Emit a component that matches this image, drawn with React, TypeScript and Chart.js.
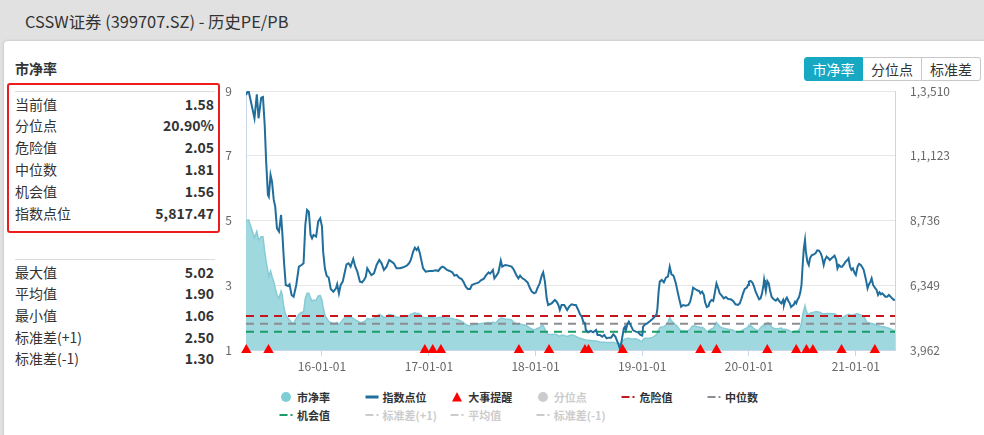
import React, { useEffect, useRef } from 'react';
import { Chart, registerables } from 'chart.js';

Chart.register(...registerables);

const FONT = '"Microsoft YaHei", "Noto Sans CJK SC", "Noto Sans", sans-serif';

// ---------- data ----------
const dates: string[] = [
  '2015-04-16','2015-04-20','2015-04-25','2015-05-15','2015-05-23','2015-05-29','2015-06-07','2015-06-13','2015-06-19','2015-06-24','2015-06-30','2015-07-03','2015-07-09','2015-07-14','2015-07-20','2015-07-25','2015-07-31','2015-08-07','2015-08-14','2015-08-18','2015-08-24','2015-08-30','2015-09-07','2015-09-12','2015-09-19','2015-09-26','2015-10-05','2015-10-14','2015-10-23','2015-10-30','2015-11-05','2015-11-11','2015-11-17','2015-11-23','2015-11-28','2015-12-03','2015-12-12','2015-12-19','2015-12-26',
  '2016-01-01','2016-01-05','2016-01-11','2016-01-17','2016-01-24','2016-01-31','2016-02-09','2016-02-18','2016-02-22','2016-02-28','2016-03-05','2016-03-12','2016-03-17','2016-03-25','2016-04-01','2016-04-08','2016-04-17','2016-04-24','2016-05-01','2016-05-10','2016-05-17','2016-05-24','2016-05-30','2016-06-04','2016-06-11','2016-06-18','2016-06-27','2016-07-06','2016-07-15','2016-07-23','2016-07-31','2016-08-09','2016-08-18','2016-08-26','2016-09-03','2016-09-12','2016-09-24','2016-10-05','2016-10-17','2016-10-25','2016-10-31','2016-11-08','2016-11-14','2016-11-20','2016-11-25','2016-12-01','2016-12-07','2016-12-12','2016-12-21',
  '2017-01-02','2017-01-13','2017-01-25','2017-02-02','2017-02-09','2017-02-16','2017-02-23','2017-03-04','2017-03-13','2017-03-22','2017-03-29','2017-04-06','2017-04-14','2017-04-23','2017-04-30','2017-05-07','2017-05-14','2017-05-22','2017-05-28','2017-06-08','2017-06-19','2017-06-29','2017-07-08','2017-07-16','2017-07-24','2017-07-29','2017-08-04','2017-08-08','2017-08-13','2017-08-20','2017-08-27','2017-09-04','2017-09-09','2017-09-19','2017-09-30','2017-10-11','2017-10-19','2017-10-27','2017-11-03','2017-11-09','2017-11-17','2017-11-26','2017-12-05','2017-12-13','2017-12-19','2017-12-27',
  '2018-01-02','2018-01-08','2018-01-15','2018-01-22','2018-01-27','2018-02-02','2018-02-08','2018-02-13','2018-02-25','2018-03-08','2018-03-14','2018-03-20','2018-03-25','2018-03-31','2018-04-09','2018-04-19','2018-04-26','2018-05-04','2018-05-13','2018-05-19','2018-05-27','2018-06-02','2018-06-08','2018-06-13','2018-06-19','2018-06-22','2018-06-30','2018-07-09','2018-07-17','2018-07-27','2018-08-01','2018-08-09','2018-08-17','2018-08-24','2018-09-01','2018-09-09','2018-09-16','2018-09-24','2018-10-01','2018-10-07','2018-10-12','2018-10-17','2018-10-20','2018-10-25','2018-10-30','2018-11-03','2018-11-06','2018-11-11','2018-11-16','2018-11-23','2018-12-01','2018-12-10','2018-12-18','2018-12-26',
  '2019-01-01','2019-01-04','2019-01-11','2019-01-18','2019-01-27','2019-02-05','2019-02-13','2019-02-19','2019-02-22','2019-02-26','2019-03-02','2019-03-09','2019-03-16','2019-03-23','2019-03-30','2019-04-05','2019-04-11','2019-04-18','2019-04-26','2019-05-02','2019-05-07','2019-05-14','2019-05-21','2019-05-30','2019-06-08','2019-06-14','2019-06-20','2019-06-24','2019-07-01','2019-07-08','2019-07-15','2019-07-19','2019-07-25','2019-07-31','2019-08-04','2019-08-10','2019-08-16','2019-08-20','2019-08-26','2019-09-01','2019-09-06','2019-09-12','2019-09-18','2019-09-23','2019-09-30','2019-10-07','2019-10-14','2019-10-22','2019-10-31','2019-11-08','2019-11-16','2019-11-25','2019-12-01','2019-12-07','2019-12-12','2019-12-18','2019-12-25','2019-12-29',
  '2020-01-01','2020-01-07','2020-01-13','2020-01-18','2020-01-24','2020-01-30','2020-02-05','2020-02-10','2020-02-15','2020-02-20','2020-02-22','2020-02-25','2020-02-28','2020-03-04','2020-03-09','2020-03-13','2020-03-19','2020-03-26','2020-04-02','2020-04-08','2020-04-15','2020-04-21','2020-04-27','2020-04-30','2020-05-05','2020-05-10','2020-05-15','2020-05-20','2020-05-24','2020-05-29','2020-06-02','2020-06-07','2020-06-11','2020-06-16','2020-06-20','2020-06-25','2020-06-29','2020-07-03','2020-07-07','2020-07-11','2020-07-14','2020-07-19','2020-07-24','2020-07-28','2020-08-03','2020-08-10','2020-08-16','2020-08-22','2020-08-28','2020-09-03','2020-09-07','2020-09-13','2020-09-17','2020-09-23','2020-09-29','2020-10-04','2020-10-10','2020-10-16','2020-10-20','2020-10-26','2020-10-30','2020-11-04','2020-11-10','2020-11-15','2020-11-21','2020-11-27','2020-12-03','2020-12-07','2020-12-12','2020-12-17','2020-12-22','2020-12-28',
  '2021-01-01','2021-01-07','2021-01-12','2021-01-18','2021-01-24','2021-01-28','2021-02-01','2021-02-06','2021-02-10','2021-02-14','2021-02-20','2021-02-24','2021-03-01','2021-03-07','2021-03-13','2021-03-18','2021-03-23','2021-03-28','2021-04-01','2021-04-07','2021-04-12','2021-04-18','2021-04-24','2021-04-30','2021-05-05','2021-05-11','2021-05-15',
];

// 市净率 (left axis)
const pbValues: number[] = [
  5.00,5.01,5.02,4.47,4.66,4.40,4.50,4.50,4.04,3.73,3.42,3.27,3.44,3.27,3.11,2.91,2.70,2.60,2.82,2.70,2.29,2.08,1.98,1.93,1.85,1.82,1.98,2.10,2.16,2.18,2.60,2.75,2.75,2.60,2.51,2.54,2.54,2.67,2.68,
  2.54,2.31,2.08,1.98,1.88,1.85,1.82,1.84,1.85,1.79,1.85,1.93,1.98,2.03,2.00,2.02,1.98,1.93,1.90,1.85,1.85,1.88,1.91,1.98,1.96,1.95,1.98,2.03,2.10,2.06,2.00,2.03,2.10,2.08,2.06,2.01,2.01,2.02,2.04,2.06,2.10,2.13,2.15,2.12,2.13,2.10,2.03,2.01,2.00,
  2.00,2.00,1.98,2.00,2.01,2.01,2.00,1.99,1.98,1.97,1.95,1.94,1.92,1.88,1.84,1.79,1.76,1.75,1.77,1.79,1.80,1.82,1.83,1.84,1.85,1.84,1.85,1.86,1.83,1.86,1.93,1.99,1.98,1.96,1.95,1.93,1.85,1.82,1.81,1.80,1.78,1.77,1.73,1.67,1.65,1.62,
  1.64,1.67,1.69,1.77,1.75,1.65,1.51,1.48,1.48,1.49,1.48,1.44,1.42,1.46,1.45,1.42,1.44,1.46,1.45,1.42,1.38,1.36,1.35,1.33,1.32,1.31,1.30,1.29,1.28,1.28,1.27,1.25,1.24,1.24,1.23,1.23,1.23,1.24,1.22,1.21,1.20,1.18,1.20,1.28,1.31,1.34,1.34,1.36,1.36,1.34,1.34,1.35,1.32,1.28,
  1.26,1.33,1.36,1.36,1.37,1.39,1.44,1.48,1.55,1.62,1.69,1.71,1.72,1.77,1.85,2.00,1.90,1.84,1.77,1.71,1.65,1.59,1.60,1.59,1.60,1.64,1.72,1.75,1.74,1.72,1.71,1.69,1.70,1.67,1.62,1.57,1.59,1.62,1.65,1.67,1.75,1.85,1.79,1.73,1.69,1.67,1.66,1.64,1.63,1.61,1.57,1.56,1.57,1.59,1.62,1.65,1.68,1.72,
  1.77,1.75,1.71,1.66,1.63,1.60,1.62,1.69,1.72,1.77,1.79,1.75,1.77,1.85,1.84,1.79,1.71,1.67,1.65,1.66,1.67,1.68,1.63,1.63,1.64,1.63,1.61,1.59,1.57,1.56,1.55,1.59,1.57,1.59,1.62,1.69,1.85,2.08,2.24,2.37,2.24,2.13,2.10,2.13,2.16,2.17,2.18,2.18,2.17,2.15,2.13,2.12,2.12,2.13,2.13,2.13,2.12,2.12,2.12,2.08,2.03,1.98,1.98,1.99,2.02,2.06,2.08,2.10,2.09,2.06,2.08,2.10,
  2.11,2.12,2.10,2.08,2.05,2.02,1.98,1.88,1.85,1.84,1.82,1.82,1.81,1.79,1.77,1.75,1.74,1.73,1.72,1.72,1.70,1.69,1.67,1.65,1.63,1.61,1.58,
];

// 指数点位 (right axis)
const indexValues: number[] = [
  13360,13462,13510,12504,13388,12504,13265,13290,12258,10906,9677,9615,10414,10168,9493,9247,8448,8325,8940,8325,7219,6359,6322,6383,5990,5928,6359,7034,7096,7157,8571,9124,9062,8202,8079,8202,8141,8694,8817,
  8509,7588,6973,6703,6629,6211,6113,6236,6383,6051,6359,6482,6727,7120,7157,7034,7317,7034,6850,6482,6457,6543,6666,6973,6850,6727,6789,7096,7280,7157,6912,7034,7280,7219,7157,6973,6973,7010,7072,7157,7280,7588,7735,7649,7735,7526,7219,6973,6850,
  6875,6875,6900,6875,6973,7034,6998,6912,6875,6826,6703,6727,6629,6580,6457,6297,6211,6211,6359,6408,6445,6543,6592,6727,6826,6777,6850,6912,6604,6703,6826,7256,7034,7096,7072,7034,6912,6727,6604,6703,6604,6543,6445,6236,6113,6051,
  6088,6260,6420,6703,6826,6482,5867,5621,5683,5806,5744,5621,5437,5621,5621,5437,5560,5646,5621,5621,5437,5277,5191,5007,4945,4699,4613,4663,4613,4699,4515,4515,4454,4515,4392,4417,4417,4540,4454,4294,4171,3999,4146,4454,4761,4822,4699,4908,5007,4859,4687,4638,4613,4515,
  4490,4822,4908,4945,5019,5105,5191,5277,5498,6113,6482,6543,6457,6629,6666,7034,6752,6703,6420,6113,5867,5560,5621,5597,5621,5744,6015,6260,6211,6162,6137,6051,6113,5990,5720,5548,5585,5720,5806,5769,6051,6420,6236,6051,5965,5867,5916,5842,5830,5769,5646,5621,5683,5867,6051,6211,6260,6359,
  6482,6506,6445,6322,6113,5965,5830,5867,6051,6359,6543,6334,6137,6506,6420,6174,5916,5830,5781,5855,5744,5683,5806,5621,5806,5891,5769,5683,5548,5597,5621,5744,5683,5830,5891,6088,6359,7096,7711,8018,7588,7219,7096,7342,7452,7489,7526,7637,7625,7526,7403,7096,7280,7403,7342,7280,7342,7403,7440,7280,6973,7096,7034,7034,7120,7219,7280,7342,7034,6912,6973,6789,
  6727,7034,7133,7096,6998,6912,6727,6482,6236,6359,6482,6604,6359,6260,6174,5990,6088,6015,6051,5990,5928,5928,5990,5928,5867,5806,5817,
];

// 大事提醒
const eventDates: string[] = [
  '2015-04-17','2015-07-02','2016-12-18','2017-01-14','2017-02-11','2017-11-05','2018-02-16','2018-06-19','2018-07-01',
  '2018-10-26','2019-07-19','2019-09-12','2020-03-04','2020-06-11','2020-07-16','2020-08-07','2020-11-13','2021-03-07',
];

const startDate = '2015-04-16';
const endDate = '2021-05-15';

const dangerValue = 2.05;
const medianValue = 1.81;
const chanceValue = 1.56;
const stdPlusValue = 2.5;
const meanValue = 1.9;
const stdMinusValue = 1.3;

const leftTickValues = [1, 3, 5, 7, 9];
const rightTickValues = [3962, 6349, 8736, 11123, 13510];
const rightTickLabels = ['3,962', '6,349', '8,736', '1,1,123', '1,3,510'];
const xTickDates = ['2016-01-01', '2017-01-01', '2018-01-01', '2019-01-01', '2020-01-01', '2021-01-01'];
const xTickLabels = ['16-01-01', '17-01-01', '18-01-01', '19-01-01', '20-01-01', '21-01-01'];

const statLabelsTop = ['当前值', '分位点', '危险值', '中位数', '机会值', '指数点位'];
const statValuesTop = ['1.58', '20.90%', '2.05', '1.81', '1.56', '5,817.47'];
const statLabelsBottom = ['最大值', '平均值', '最小值', '标准差(+1)', '标准差(-1)'];
const statValuesBottom = ['5.02', '1.90', '1.06', '2.50', '1.30'];

const tabLabels = ['市净率', '分位点', '标准差'];

// ---------- styles ----------
const C_PB_FILL = '#a0d8df';
const C_PB_LINE = '#86ccd6';
const C_PB_LEGEND = '#7fcdd7';
const C_INDEX = '#1f6e9c';
const C_EVENT = '#ff0000';
const C_DANGER = '#c4161c';
const C_MEDIAN = '#8b8d93';
const C_CHANCE = '#189c68';
const C_HIDDEN = '#cccccc';

const legendItems = [
  { label: '市净率', icon: 'circle', color: C_PB_LEGEND, hidden: false },
  { label: '指数点位', icon: 'line', color: C_INDEX, hidden: false },
  { label: '大事提醒', icon: 'triangle', color: C_EVENT, hidden: false },
  { label: '分位点', icon: 'circle', color: C_HIDDEN, hidden: true },
  { label: '危险值', icon: 'dash', color: C_DANGER, hidden: false },
  { label: '中位数', icon: 'dash', color: C_MEDIAN, hidden: false },
  { label: '机会值', icon: 'dash', color: C_CHANCE, hidden: false },
  { label: '标准差(+1)', icon: 'dash', color: C_HIDDEN, hidden: true },
  { label: '平均值', icon: 'dash', color: C_HIDDEN, hidden: true },
  { label: '标准差(-1)', icon: 'dash', color: C_HIDDEN, hidden: true },
];

const toMs = (s: string) => {
  const [y, m, d] = s.split('-').map(Number);
  return Date.UTC(y, m - 1, d);
};

function LegendIcon({ icon, color }: { icon: string; color: string }) {
  if (icon === 'circle') return <svg width={16} height={12}><circle cx={7} cy={6} r={5} fill={color} /></svg>;
  if (icon === 'line') return <svg width={16} height={12}><rect x={0.5} y={4.5} width={13} height={3} fill={color} /></svg>;
  if (icon === 'triangle') return <svg width={16} height={12}><polygon points="7,1 12,10.5 2,10.5" fill={color} /></svg>;
  return (
    <svg width={16} height={12}>
      <rect x={0.5} y={5} width={8} height={2} fill={color} />
      <rect x={11.5} y={5} width={2} height={2} fill={color} />
    </svg>
  );
}

export default function App() {
  const canvasRef = useRef<HTMLCanvasElement | null>(null);

  useEffect(() => {
    if (!canvasRef.current) return;
    const xMin = toMs(startDate);
    const xMax = toMs(endDate);
    const flat = (v: number) => [{ x: xMin, y: v }, { x: xMax, y: v }];
    const refLine = (label: string, v: number, color: string, order: number, hidden = false) => ({
      label,
      type: 'line' as const,
      data: flat(v),
      yAxisID: 'y',
      borderColor: color,
      backgroundColor: color,
      borderWidth: 2,
      borderDash: [8, 6],
      pointRadius: 0,
      fill: false,
      hidden,
      order,
    });
    const tickFont = { family: FONT, size: 12 };

    const chart = new Chart(canvasRef.current, {
      type: 'line',
      data: {
        datasets: [
          {
            label: '大事提醒',
            type: 'scatter',
            data: eventDates.map((d) => ({ x: toMs(d), y: 1 })),
            yAxisID: 'y',
            pointStyle: 'triangle',
            pointRadius: 6,
            pointHoverRadius: 6,
            backgroundColor: C_EVENT,
            borderColor: C_EVENT,
            borderWidth: 0,
            clip: false,
            order: 0,
          } as any,
          {
            label: '指数点位',
            type: 'line',
            data: dates.map((d, i) => ({ x: toMs(d), y: indexValues[i] })),
            yAxisID: 'y1',
            borderColor: C_INDEX,
            backgroundColor: C_INDEX,
            borderWidth: 2,
            pointRadius: 0,
            fill: false,
            order: 1,
          },
          refLine('危险值', dangerValue, C_DANGER, 2),
          refLine('中位数', medianValue, C_MEDIAN, 3),
          refLine('机会值', chanceValue, C_CHANCE, 4),
          refLine('标准差(+1)', stdPlusValue, C_HIDDEN, 5, true),
          refLine('平均值', meanValue, C_HIDDEN, 6, true),
          refLine('标准差(-1)', stdMinusValue, C_HIDDEN, 7, true),
          {
            label: '分位点',
            type: 'line',
            data: [],
            yAxisID: 'y',
            hidden: true,
            order: 8,
          },
          {
            label: '市净率',
            type: 'line',
            data: dates.map((d, i) => ({ x: toMs(d), y: pbValues[i] })),
            yAxisID: 'y',
            borderColor: C_PB_LINE,
            backgroundColor: C_PB_FILL,
            borderWidth: 1.5,
            pointRadius: 0,
            fill: 'start',
            order: 9,
          },
        ],
      },
      options: {
        animation: false,
        responsive: false,
        devicePixelRatio: 1,
        events: [],
        layout: { autoPadding: false, padding: { top: 11, left: 0, right: 0, bottom: 0 } },
        plugins: {
          legend: { display: false },
          tooltip: { enabled: false },
        },
        scales: {
          x: {
            type: 'linear',
            min: xMin,
            max: xMax,
            afterBuildTicks: (s: any) => {
              s.ticks = xTickDates.map((d) => ({ value: toMs(d) }));
            },
            afterFit: (s: any) => {
              s.height = 30;
              s.paddingLeft = 0;
              s.paddingRight = 0;
            },
            ticks: {
              autoSkip: false,
              maxRotation: 0,
              padding: 3,
              color: '#666',
              font: tickFont,
              callback: (_v: any, i: number) => xTickLabels[i],
            },
            grid: { drawOnChartArea: false, drawTicks: true, tickLength: 6, color: '#ccd6eb' },
            border: { display: true, color: '#ccd6eb' },
          },
          y: {
            position: 'left',
            min: leftTickValues[0],
            max: leftTickValues[leftTickValues.length - 1],
            afterBuildTicks: (s: any) => {
              s.ticks = leftTickValues.map((v) => ({ value: v }));
            },
            afterFit: (s: any) => {
              s.width = 46;
              s.paddingTop = 0;
              s.paddingBottom = 0;
            },
            ticks: { padding: 14, color: '#666', font: tickFont, callback: (v: any) => String(v) },
            grid: { color: '#e6e6e6', drawTicks: false },
            border: { display: true, color: '#ccd6eb' },
          },
          y1: {
            position: 'right',
            min: rightTickValues[0],
            max: rightTickValues[rightTickValues.length - 1],
            afterBuildTicks: (s: any) => {
              s.ticks = rightTickValues.map((v) => ({ value: v }));
            },
            afterFit: (s: any) => {
              s.width = 89;
              s.paddingTop = 0;
              s.paddingBottom = 0;
            },
            ticks: { padding: 15, color: '#666', font: tickFont, callback: (_v: any, i: number) => rightTickLabels[i] },
            grid: { drawOnChartArea: false, drawTicks: false },
            border: { display: true, color: '#ccd6eb' },
          },
        },
      } as any,
    });
    return () => chart.destroy();
  }, []);

  const rowTop = (center: number) => center - 11;

  return (
    <div style={{ position: 'fixed', left: 0, top: 0, width: 984, height: 435, background: '#e1e1e1', overflow: 'hidden', fontFamily: FONT, color: '#333' }}>
      <div style={{ position: 'absolute', left: 25, top: 9, fontSize: 16.4, lineHeight: '24px', color: '#333', whiteSpace: 'nowrap' }}>
        CSSW证券 (399707.SZ) - 历史PE/PB
      </div>
      <div style={{ position: 'absolute', left: 4, top: 41, width: 1000, height: 420, background: '#fff', borderRadius: 4, boxShadow: '0 0 3px rgba(0,0,0,0.18)' }} />

      <div style={{ position: 'absolute', left: 15, top: 58, fontSize: 14, lineHeight: '20px', fontWeight: 'bold', whiteSpace: 'nowrap' }}>市净率</div>

      <div style={{ position: 'absolute', left: 7, top: 83, width: 213, height: 150, boxSizing: 'border-box', border: '2px solid #ee1c1c', borderRadius: 3 }} />
      <div style={{ position: 'absolute', left: 15, top: 91, width: 200, height: 1, background: '#dcdcdc' }} />
      {statLabelsTop.map((l, i) => (
        <React.Fragment key={'t' + i}>
          <div style={{ position: 'absolute', left: 15, top: rowTop(103.5 + 21.9 * i), fontSize: 14, lineHeight: '22px', whiteSpace: 'nowrap' }}>{l}</div>
          <div style={{ position: 'absolute', right: 984 - 214, top: rowTop(103.5 + 21.9 * i), fontSize: 14, lineHeight: '22px', fontWeight: 'bold', whiteSpace: 'nowrap' }}>{statValuesTop[i]}</div>
        </React.Fragment>
      ))}
      <div style={{ position: 'absolute', left: 15, top: 259, width: 200, height: 1, background: '#dcdcdc' }} />
      {statLabelsBottom.map((l, i) => (
        <React.Fragment key={'b' + i}>
          <div style={{ position: 'absolute', left: 15, top: rowTop(271.7 + 21.65 * i), fontSize: 14, lineHeight: '22px', whiteSpace: 'nowrap' }}>{l}</div>
          <div style={{ position: 'absolute', right: 984 - 214, top: rowTop(271.7 + 21.65 * i), fontSize: 14, lineHeight: '22px', fontWeight: 'bold', whiteSpace: 'nowrap' }}>{statValuesBottom[i]}</div>
        </React.Fragment>
      ))}

      <div style={{ position: 'absolute', left: 804, top: 57, display: 'flex', height: 24 }}>
        {tabLabels.map((t, i) => (
          <div
            key={t}
            style={{
              width: 59,
              height: 24,
              boxSizing: 'border-box',
              border: '1px solid ' + (i === 0 ? '#17a9c4' : '#c8c8c8'),
              borderLeftWidth: i === 0 ? 1 : 0,
              background: i === 0 ? '#17a9c4' : '#fff',
              color: i === 0 ? '#fff' : '#333',
              fontSize: 14,
              lineHeight: '22px',
              textAlign: 'center',
              borderRadius: i === 0 ? '3px 0 0 3px' : i === tabLabels.length - 1 ? '0 3px 3px 0' : 0,
            }}
          >
            {t}
          </div>
        ))}
      </div>

      <canvas ref={canvasRef} width={784} height={300} style={{ position: 'absolute', left: 200, top: 80, width: 784, height: 300 }} />

      {legendItems.map((it, i) => {
        const col = i % 6;
        const row = Math.floor(i / 6);
        const textLeft = 297 + 85.6 * col;
        const cy = 397 + 18 * row;
        return (
          <React.Fragment key={it.label}>
            <div style={{ position: 'absolute', left: textLeft - 18, top: cy - 6, width: 16, height: 12, lineHeight: 0 }}>
              <LegendIcon icon={it.icon} color={it.color} />
            </div>
            <div style={{ position: 'absolute', left: textLeft, top: cy - 8, fontSize: 11, lineHeight: '16px', fontWeight: 'bold', color: it.hidden ? '#cccccc' : '#333', whiteSpace: 'nowrap' }}>
              {it.label}
            </div>
          </React.Fragment>
        );
      })}
    </div>
  );
}
